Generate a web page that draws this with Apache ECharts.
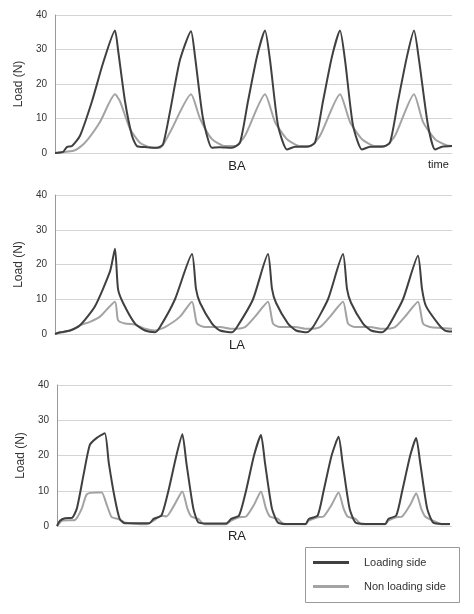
<!DOCTYPE html>
<html>
<head>
<meta charset="utf-8">
<script src="https://cdn.jsdelivr.net/npm/echarts@6/dist/echarts.min.js"></script>
<style>html,body{margin:0;background:#fff}#chart{width:474px;height:614px}</style>
</head>
<body>
<div id="chart"></div>
<script>
const yTicks = [0, 10, 20, 30, 40];
const panelNames = ['BA', 'LA', 'RA'];
const seriesNames = ['Loading side', 'Non loading side'];

const baLoading = [[0,0],[8,0.3],[12,1.8],[17,2],[25,5],[37,15],[48,26],[60,35.5],[63,30],[70,15],[77,5],[82,2],[92,1.7],[102,1.5],[108,2.5],[115,12],[125,27],[136,35.3],[140,28],[148,10],[157,1.5],[165,1.7],[177,1.5],[185,3],[193,15],[202,28],[210,35.5],[215,27],[223,8],[232,1],[240,1.8],[252,1.8],[260,3],[268,15],[277,28],[285,35.5],[290,27],[298,8],[307,1],[315,1.8],[327,1.8],[335,3],[343,15],[352,28],[359,35.5],[364,27],[373,8],[380,1],[387,1.8],[397,2]];
const baNon = [[0,0],[20,0.8],[30,3],[45,9],[60,17],[65,15],[75,7],[85,3],[95,1.6],[105,1.5],[115,6],[136,17],[145,10],[157,4],[170,2],[180,2],[190,5],[210,17],[220,9],[232,4],[245,2],[255,2],[265,5],[285,17],[295,9],[307,4],[320,2],[330,2],[340,5],[359,17],[368,9],[380,4],[392,2.2],[397,2]];

const laLoading = [[0,0],[5,0.5],[15,1],[25,2.5],[40,8],[55,18],[60,24.5],[63,13],[68,9],[80,3],[90,1],[100,0.5],[105,2],[120,10],[137,23],[141,13],[145,9],[157,3],[165,1],[177,0.5],[182,2],[198,10],[213,23],[217,13],[221,9],[233,3],[241,1],[252,0.5],[258,2],[273,10],[288,23],[292,13],[296,9],[308,3],[316,1],[327,0.5],[333,2],[348,10],[363,22.5],[367,13],[371,8],[383,3],[390,1],[397,0.7]];
const laNon = [[0,0],[15,1],[25,2.5],[35,3.5],[45,5],[60,9.3],[63,4],[70,3],[80,2.7],[90,1.5],[100,1],[110,2],[125,5],[137,9.3],[142,3],[150,2],[165,2],[177,1.5],[190,2],[200,5],[213,9.3],[218,3],[225,2],[240,2],[252,1.5],[265,2],[275,5],[288,9.3],[293,3],[300,2],[315,2],[327,1.5],[340,2],[350,5],[363,9.3],[368,3],[375,2],[397,1.5]];

const raLoading = [[0,0],[3,1.5],[8,2.2],[15,2.3],[20,5],[27,15],[33,23],[40,25],[48,26.3],[52,18],[58,8],[63,2],[68,0.8],[85,0.8],[93,0.8],[97,2],[105,3],[112,10],[120,20],[126,26],[130,18],[137,5],[142,1],[150,0.7],[170,0.7],[175,2],[183,3],[190,10],[198,20],[205,25.8],[209,18],[216,5],[222,1],[230,0.6],[250,0.6],[253,2],[262,3],[268,10],[276,20],[283,25.3],[287,18],[294,5],[300,1],[310,0.6],[330,0.6],[333,2],[341,3],[347,10],[355,20],[361,25],[365,18],[372,5],[378,1],[387,0.6],[395,0.6]];
const raNon = [[0,0],[5,1.5],[18,1.7],[25,5],[30,9],[40,9.5],[45,9.5],[50,6],[55,2.5],[62,2],[68,1],[90,0.5],[97,1.5],[105,3],[110,2.7],[118,6],[126,9.8],[131,5],[135,2.7],[142,2],[148,0.5],[170,0.5],[175,1.5],[183,2.5],[190,2.7],[198,6],[205,9.8],[210,5],[214,2.7],[222,2],[228,0.5],[250,0.5],[253,1.5],[262,2.5],[268,2.7],[276,6],[283,9.5],[288,5],[292,2.7],[300,2],[306,0.5],[330,0.5],[333,1.5],[341,2.5],[347,2.7],[355,6],[361,9.3],[366,5],[370,2.7],[378,1.5],[387,0.5],[395,0.5]];

const panels = [[baLoading, baNon], [laLoading, laNon], [raLoading, raNon]];
const grids = [
    { left: 55, right: 22, top: 15, height: 138 },
    { left: 55, right: 22, top: 195, height: 139 },
    { left: 57, right: 22, top: 385, height: 141 }
];
const colors = ['#404040', '#a3a3a3'];

const chart = echarts.init(document.getElementById('chart'));

const option = {
    animation: false,
    grid: grids,
    xAxis: grids.map((g, i) => ({
        type: 'value', gridIndex: i, min: 0, max: 397,
        axisLine: { show: false }, axisTick: { show: false },
        axisLabel: { show: false }, splitLine: { show: false }
    })),
    yAxis: grids.map((g, i) => ({
        type: 'value', gridIndex: i, min: 0, max: 40, interval: 10,
        name: 'Load (N)', nameLocation: 'middle', nameGap: 30, nameRotate: 90,
        nameTextStyle: { fontFamily: 'Liberation Sans', fontSize: 12, color: '#333' },
        axisLine: { show: true, lineStyle: { color: '#999' } }, axisTick: { show: false },
        axisLabel: { fontFamily: 'Liberation Sans', fontSize: 10, color: '#333', margin: 8 },
        splitLine: { lineStyle: { color: '#d4d4d4' } }
    })),
    legend: {
        orient: 'vertical', left: 313, top: 557,
        padding: 0, itemGap: 13, itemWidth: 36, itemHeight: 3,
        icon: 'rect',
        textStyle: { fontFamily: 'Liberation Sans', fontSize: 11, color: '#333', padding: [0, 0, 0, 10] },
        data: seriesNames
    },
    series: [],
    graphic: [
        { type: 'rect', shape: { x: 305.5, y: 547.5, width: 154, height: 55 }, style: { fill: 'none', stroke: '#999', lineWidth: 1 } },
        { type: 'text', left: 'center', top: 160, style: { text: 'BA', font: '13px Liberation Sans', fill: '#222' } },
        { type: 'text', left: 428, top: 159, style: { text: 'time', font: '11px Liberation Sans', fill: '#222' } },
        { type: 'text', left: 'center', top: 339, style: { text: 'LA', font: '13px Liberation Sans', fill: '#222' } },
        { type: 'text', left: 'center', top: 530, style: { text: 'RA', font: '13px Liberation Sans', fill: '#222' } }
    ]
};

panels.forEach((pair, i) => {
    pair.forEach((data, j) => {
        option.series.push({
            name: seriesNames[j], type: 'line', xAxisIndex: i, yAxisIndex: i,
            data: data, smooth: 0.2, showSymbol: false, z: j === 0 ? 3 : 2,
            lineStyle: { color: colors[j], width: 2 }, itemStyle: { color: colors[j] }
        });
    });
});

chart.setOption(option);
</script>
</body>
</html>
